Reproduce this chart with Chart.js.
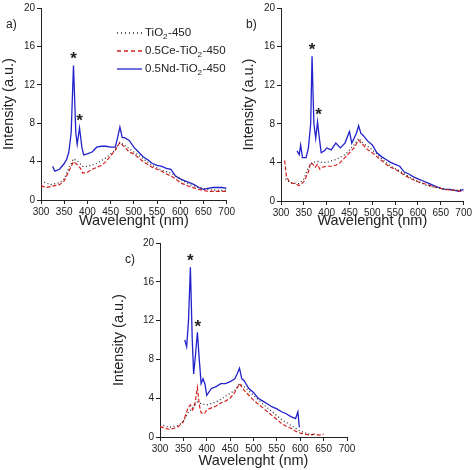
<!DOCTYPE html>
<html><head><meta charset="utf-8">
<script src="https://cdn.jsdelivr.net/npm/chart.js@4/dist/chart.umd.min.js"></script>
<style>body{margin:0;background:#fff;width:474px;height:470px;position:relative;overflow:hidden}
.p{position:absolute}</style></head><body>
<div class="p" style="left:0;top:0;width:237px;height:230px"><canvas id="ca"></canvas></div>
<div class="p" style="left:240px;top:0;width:234px;height:230px"><canvas id="cb"></canvas></div>
<div class="p" style="left:110px;top:235px;width:250px;height:235px"><canvas id="cc"></canvas></div>
<script>
// panel a
const aTiX = [300,310,320,340,350,360,370,380,390,400,420,440,460,470,480,500,520,540,560,580,600,620,640,660,680,700];
const aTiY = [2,1.8,1.6,1.8,2.2,3.3,4.3,4,3.5,3.5,3.8,4.4,5.2,6,5.7,5,4.3,3.6,3.1,2.8,2.2,1.6,1.3,1.1,1,1];
const aCeX = [300,310,320,330,340,350,360,365,370,375,380,385,390,400,410,420,430,440,450,460,470,480,490,500,510,520,530,540,550,560,570,580,590,600,620,640,660,680,700];
const aCeY = [1.5,1.3,1.4,1.5,1.6,2,3,3.5,4,3.8,3.6,3.3,2.8,2.9,3.2,3.4,3.6,4,4.6,5.2,6,5.5,5,4.8,4.4,4,3.7,3.4,3.2,3,2.7,2.5,2.2,1.8,1.4,1.1,0.9,0.9,0.9];
const aNdX = [325,330,340,350,355,360,365,370,375,378,383,388,392,400,410,420,430,440,450,460,465,470,475,480,490,500,510,520,530,540,550,560,570,580,590,600,610,620,630,640,650,660,670,680,690,700];
const aNdY = [3.5,3,3.2,3.8,4.2,5,7,14,7,5.8,7.5,5.5,4.7,4.8,5,5.5,5.6,5.6,5.5,5.5,6.5,7.6,6.5,6.5,6.2,5.5,5,4.5,4.2,3.8,3.6,3.5,3.3,3.2,2.5,2.2,2,1.8,1.6,1.3,1.1,1.2,1.3,1.3,1.3,1.2];
// panel b
const bTiX = [310,320,340,350,360,370,380,390,400,420,440,460,470,480,500,520,540,560,580,600,620,640,660,680,700];
const bTiY = [2.3,1.9,1.8,2.3,3.5,4,4.1,4,4,4.3,4.8,5.8,6.5,6,5.3,4.4,3.6,3.1,2.5,2,1.6,1.4,1.2,1.1,1.2];
const bCeX = [308,312,320,330,340,350,360,365,370,375,380,385,390,400,410,420,430,440,450,460,470,480,490,500,510,520,530,540,550,560,570,580,590,600,620,640,660,680,700];
const bCeY = [4.2,2.5,1.9,1.8,1.6,2,3,4,3.8,3.5,3.8,3.3,3.5,3.6,3.6,3.7,4,4.5,5,5.5,6.3,5.8,5.3,5,4.6,4.2,3.8,3.5,3.3,3,2.7,2.4,2.2,2,1.7,1.4,1.2,1.1,1];
const bNdX = [335,340,343,347,355,360,365,368,372,376,380,384,388,395,400,410,420,430,440,450,455,460,465,470,475,480,490,500,510,520,530,540,550,560,570,580,590,600,610,620,630,640,650,660,670,680,690,700];
const bNdY = [5.2,4.8,5.8,4.5,4.5,5.5,8,15,8,6.5,8.2,6.5,5,5.2,5.5,5.3,6,5.5,6,7.2,6,6.5,7,7.8,7,6.8,6.2,5.8,5,4.6,4.3,4,3.8,3.6,3,2.8,2.5,2.3,2.1,1.9,1.7,1.5,1.3,1.2,1.2,1.1,1,1.2];
// panel c
const cTiX = [300,320,340,350,360,370,380,390,400,420,440,460,470,480,500,520,540,560,580,600,620,630];
const cTiY = [1.3,1,1.2,1.6,2.5,3,3.6,3.4,3.3,3.6,4.2,4.8,5.5,5.2,4.3,3.4,2.6,1.8,1.2,0.6,0.3,0.2];
const cCeX = [300,310,320,330,340,350,360,365,370,375,380,384,388,395,400,410,420,430,440,450,460,470,480,490,500,510,520,530,540,550,560,570,580,590,600,610,620,630,640,650];
const cCeY = [1.1,0.9,0.8,0.9,1.1,1.6,3,3.3,2.8,3.5,5.1,3.3,2.5,2.4,2.8,3,3.2,3.5,3.7,4,4.6,5.5,4.8,4.3,3.8,3.4,3,2.6,2.2,1.8,1.4,1.1,0.9,0.6,0.4,0.3,0.2,0.3,0.2,0.3];
const cNdX = [353,357,361,365,369,372,376,380,384,388,392,396,400,410,420,430,440,450,460,465,470,475,480,490,500,510,520,530,540,550,560,570,580,590,595,598];
const cNdY = [10,9.3,12,17.5,10,6.5,8.5,10.8,8,5.5,6,5.5,4.3,5,5.2,5.5,5.5,5.7,6,6.5,7.1,6,5.8,5,4.6,4,3.7,3.4,3.1,2.9,2.6,2.4,2.1,1.9,2.6,1];

const seriesNames = ['TiO₂-450', '0.5Ce-TiO₂-450', '0.5Nd-TiO₂-450'];
const FONT = 'Liberation Sans';

function pts(xs, ys) { return xs.map((x, i) => ({x: x, y: ys[i]})); }

const annot = {
  id: 'annot',
  afterDraw(chart, args, o) {
    const ctx = chart.ctx, xs = chart.scales.x, ys = chart.scales.y;
    ctx.save();
    ctx.fillStyle = '#222';
    ctx.font = '12px ' + FONT;
    ctx.textAlign = 'left';
    ctx.fillText(o.label, chart.chartArea.left - 35, chart.chartArea.top + 20);
    ctx.font = 'bold 17px ' + FONT;
    ctx.textAlign = 'center';
    o.stars.forEach(s => ctx.fillText('*', xs.getPixelForValue(s[0]), ys.getPixelForValue(s[1]) + 8));
    if (o.legend) {
      const cols = [['#222', [1, 3]], ['#d62020', [4, 3]], ['#2222cc', []]];
      ctx.font = '11.5px ' + FONT;
      ctx.textAlign = 'left';
      ctx.textBaseline = 'middle';
      cols.forEach((c, i) => {
        const y = chart.chartArea.top + 25 + i * 18, x = chart.chartArea.left + 76;
        ctx.strokeStyle = c[0]; ctx.lineWidth = 1.3; ctx.setLineDash(c[1]);
        ctx.beginPath(); ctx.moveTo(x, y); ctx.lineTo(x + 25, y); ctx.stroke();
        ctx.setLineDash([]);
        ctx.fillStyle = '#222';
        const n = seriesNames[i], k = n.indexOf('₂');
        ctx.fillText(n.slice(0, k), x + 28, y);
        const w = ctx.measureText(n.slice(0, k)).width;
        ctx.font = '8px ' + FONT; ctx.fillText('2', x + 28 + w, y + 4);
        ctx.font = '11.5px ' + FONT; ctx.fillText(n.slice(k + 1), x + 28 + w + 5, y);
      });
    }
    ctx.restore();
  }
};

function makePanel(id, d, pad, yW, xH, label, stars, legend) {
  new Chart(document.getElementById(id), {
    type: 'line',
    data: { datasets: [
      { data: pts(d[0], d[1]), borderColor: '#222', borderWidth: 1.2, borderDash: [1, 2.5] },
      { data: pts(d[2], d[3]), borderColor: '#d62020', borderWidth: 1.2, borderDash: [4, 2] },
      { data: pts(d[4], d[5]), borderColor: '#2222cc', borderWidth: 1.3 }
    ] },
    options: {
      animation: false, responsive: true, maintainAspectRatio: false,
      elements: { point: { radius: 0 }, line: { tension: 0 } },
      layout: { padding: pad },
      plugins: { legend: { display: false }, tooltip: { enabled: false },
        annot: { label: label, stars: stars, legend: legend } },
      scales: {
        x: { type: 'linear', min: 300, max: 700,
          ticks: { stepSize: 50, color: '#222', font: { family: FONT, size: 10 }, maxRotation: 0, autoSkip: false, padding: 2 },
          grid: { drawOnChartArea: false, tickLength: 4, color: '#222' },
          border: { color: '#222' },
          title: { display: true, text: 'Wavelenght (nm)', color: '#222', font: { family: FONT, size: 14.5 }, padding: 0 },
          afterFit: s => { s.height = xH; } },
        y: { min: 0, max: 20,
          ticks: { stepSize: 4, color: '#222', font: { family: FONT, size: 10 }, padding: 2 },
          grid: { drawOnChartArea: false, tickLength: 4, color: '#222' },
          border: { color: '#222' },
          title: { display: true, text: 'Intensity (a.u.)', color: '#222', font: { family: FONT, size: 14.5 }, padding: 0 },
          afterFit: s => { s.width = yW; } }
      }
    },
    plugins: [annot]
  });
}

makePanel('ca', [aTiX, aTiY, aCeX, aCeY, aNdX, aNdY], { top: 6, right: 9, left: 0, bottom: 0 }, 41, 30, 'a)', [[370, 15], [383, 8.5]], true);
makePanel('cb', [bTiX, bTiY, bCeX, bCeY, bNdX, bNdY], { top: 8, right: 9, left: 0, bottom: 0 }, 41, 29, 'b)', [[368, 16], [382, 9.2]], false);
makePanel('cc', [cTiX, cTiY, cCeX, cCeY, cNdX, cNdY], { top: 7, right: 13, left: 0, bottom: 0 }, 50, 33, 'c)', [[365, 18.5], [381, 11.7]], false);
</script></body></html>
